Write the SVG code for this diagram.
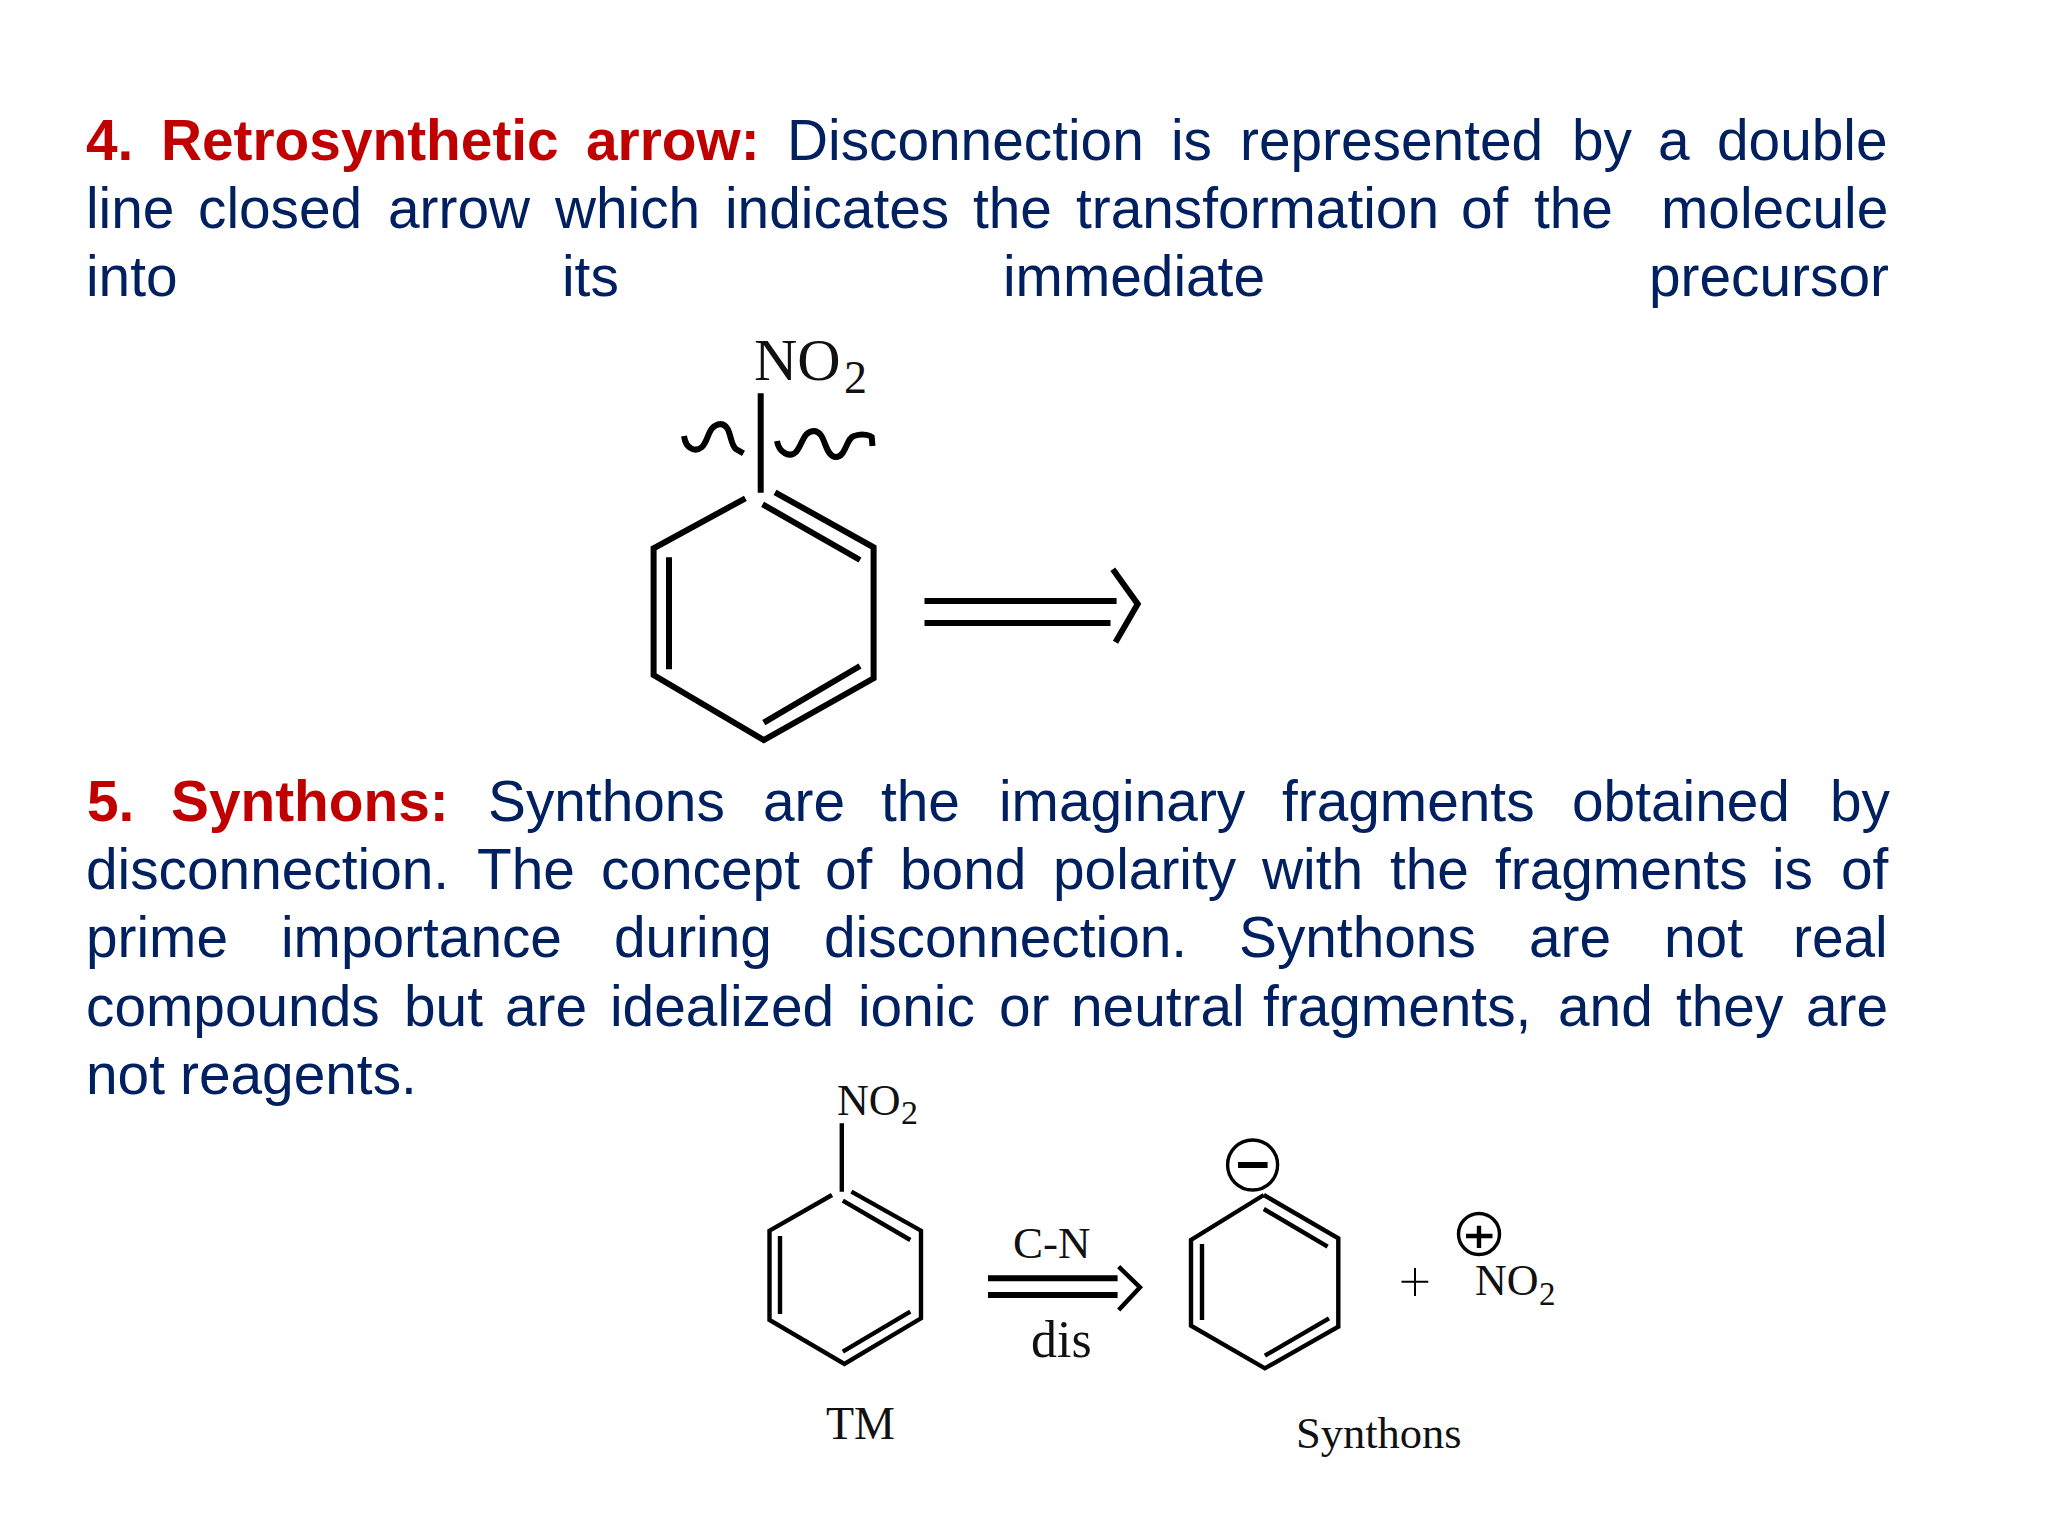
<svg xmlns="http://www.w3.org/2000/svg" width="2048" height="1536" viewBox="0 0 2048 1536">
<style>
.b{font:56.8px "Liberation Sans",Arial,sans-serif;fill:#002060}
.r{font:bold 56.8px "Liberation Sans",Arial,sans-serif;fill:#c00000}
.t{font-family:"Liberation Serif","Times New Roman",serif;fill:#111}
.k{fill:none;stroke:#000;stroke-linecap:butt;stroke-linejoin:miter}
.a{stroke-width:6}
.c{stroke-width:4.4}
</style>
<rect width="2048" height="1536" fill="#fff"/>
<g id="paragraph-4">
<text y="160" class="r"><tspan x="86">4.</tspan><tspan x="161">Retrosynthetic</tspan><tspan x="586">arrow:</tspan></text>
<text y="160" class="b"><tspan x="787">Disconnection</tspan><tspan x="1171">is</tspan><tspan x="1240">represented</tspan><tspan x="1572">by</tspan><tspan x="1658">a</tspan><tspan x="1717">double</tspan></text>
<text y="228" class="b"><tspan x="86">line</tspan><tspan x="198">closed</tspan><tspan x="388">arrow</tspan><tspan x="555">which</tspan><tspan x="725">indicates</tspan><tspan x="973">the</tspan><tspan x="1076">transformation</tspan><tspan x="1461">of</tspan><tspan x="1534">the</tspan><tspan x="1661">molecule</tspan></text>
<text y="296" class="b"><tspan x="86">into</tspan><tspan x="562">its</tspan><tspan x="1003">immediate</tspan><tspan x="1649">precursor</tspan></text>
</g>
<g id="paragraph-5">
<text y="821" class="r"><tspan x="87">5.</tspan><tspan x="171">Synthons:</tspan></text>
<text y="821" class="b"><tspan x="488">Synthons</tspan><tspan x="763">are</tspan><tspan x="881">the</tspan><tspan x="999">imaginary</tspan><tspan x="1282">fragments</tspan><tspan x="1572">obtained</tspan><tspan x="1830">by</tspan></text>
<text y="889" class="b"><tspan x="86">disconnection.</tspan><tspan x="477">The</tspan><tspan x="601">concept</tspan><tspan x="825">of</tspan><tspan x="900">bond</tspan><tspan x="1053">polarity</tspan><tspan x="1262">with</tspan><tspan x="1390">the</tspan><tspan x="1495">fragments</tspan><tspan x="1772">is</tspan><tspan x="1841">of</tspan></text>
<text y="957" class="b"><tspan x="86">prime</tspan><tspan x="281">importance</tspan><tspan x="614">during</tspan><tspan x="824">disconnection.</tspan><tspan x="1239">Synthons</tspan><tspan x="1529">are</tspan><tspan x="1664">not</tspan><tspan x="1793">real</tspan></text>
<text y="1026" class="b"><tspan x="86">compounds</tspan><tspan x="404">but</tspan><tspan x="505">are</tspan><tspan x="610">idealized</tspan><tspan x="858">ionic</tspan><tspan x="999">or</tspan><tspan x="1071">neutral</tspan><tspan x="1263">fragments,</tspan><tspan x="1558">and</tspan><tspan x="1676">they</tspan><tspan x="1806">are</tspan></text>
<text y="1094" class="b"><tspan x="86">not</tspan><tspan x="180">reagents.</tspan></text>
</g>
<g id="nitrobenzene-disconnection">
<text x="754" y="380" class="t" font-size="60">NO</text><text x="844" y="393" class="t" font-size="46">2</text>
<path class="k a" d="M745.4 498.3L653.6 548.3V675L763.8 740L873.6 678.3V547.3L775 492.3"/>
<path class="k a" d="M762.6 504.3L860 560M669 557.3V669.3M763.8 722.7L860 666M760.7 393.3V492.7"/>
<path class="k a" stroke-linecap="round" d="M684 436C686 450 696 452 702 447C709 440 708 425 720.6 424C732 425 729 444 735.9 449L743.5 453.3"/>
<path class="k a" stroke-linecap="round" d="M777 441C779 453 790 458 796 452C803 444 803 431 814.3 431C826 432 824 455 835 457C846 458 846 438 854 436C860 434 868 434 871.7 437L872.5 446"/>
</g>
<g id="connectors">
<path class="k a" d="M924.5 601H1116.6M924.5 623H1110.5M1112.8 569.3L1137.7 604L1115.5 642.3"/>
<path class="k a" d="M988 1278.3H1117.6M988 1295H1117.6"/>
<path class="k c" d="M1118.7 1266.7L1140 1287.3L1118.7 1310"/>
</g>
<g id="target-molecule">
<text x="837" y="1115" class="t" font-size="44">NO</text><text x="901" y="1124" class="t" font-size="34">2</text>
<path class="k c" d="M832 1195L769.5 1230.7V1320L844.4 1364L921 1318.3V1230.7L851.4 1191.7"/>
<path class="k c" d="M842.8 1200.7L910.3 1240M780 1236V1314M842.8 1351.7L910.3 1311.7M841.8 1123.3V1191.7"/>
<text x="826" y="1439" class="t" font-size="46">TM</text>
</g>
<g id="arrow-labels">
<text x="1013" y="1258" class="t" font-size="45">C-N</text>
<text x="1031" y="1357" class="t" font-size="52">dis</text>
</g>
<g id="aryl-anion">
<ellipse class="k" stroke-width="3.4" cx="1252.6" cy="1165" rx="25" ry="25"/>
<path class="k a" d="M1238 1165H1267.6"/>
<path class="k c" d="M1263.8 1195L1191 1240V1325.7L1264.9 1368.3L1338.3 1326.7V1238.3L1263.8 1195"/>
<path class="k c" d="M1263.8 1209L1327.6 1246.7M1202 1244V1320M1264.9 1355.7L1329 1318.3"/>
</g>
<g id="plus-sign">
<path class="k" stroke-width="2" d="M1401.5 1281.7H1428.3M1415 1268V1296"/>
</g>
<g id="nitronium">
<ellipse class="k" stroke-width="3.4" cx="1479" cy="1234" rx="20.5" ry="20.5"/>
<path class="k c" d="M1466 1236H1492.5M1479 1225.7V1248"/>
<text x="1475" y="1295" class="t" font-size="44">NO</text><text x="1539" y="1305" class="t" font-size="33">2</text>
</g>
<g id="synthons-label">
<text x="1296" y="1448" class="t" font-size="44.5">Synthons</text>
</g>
</svg>
